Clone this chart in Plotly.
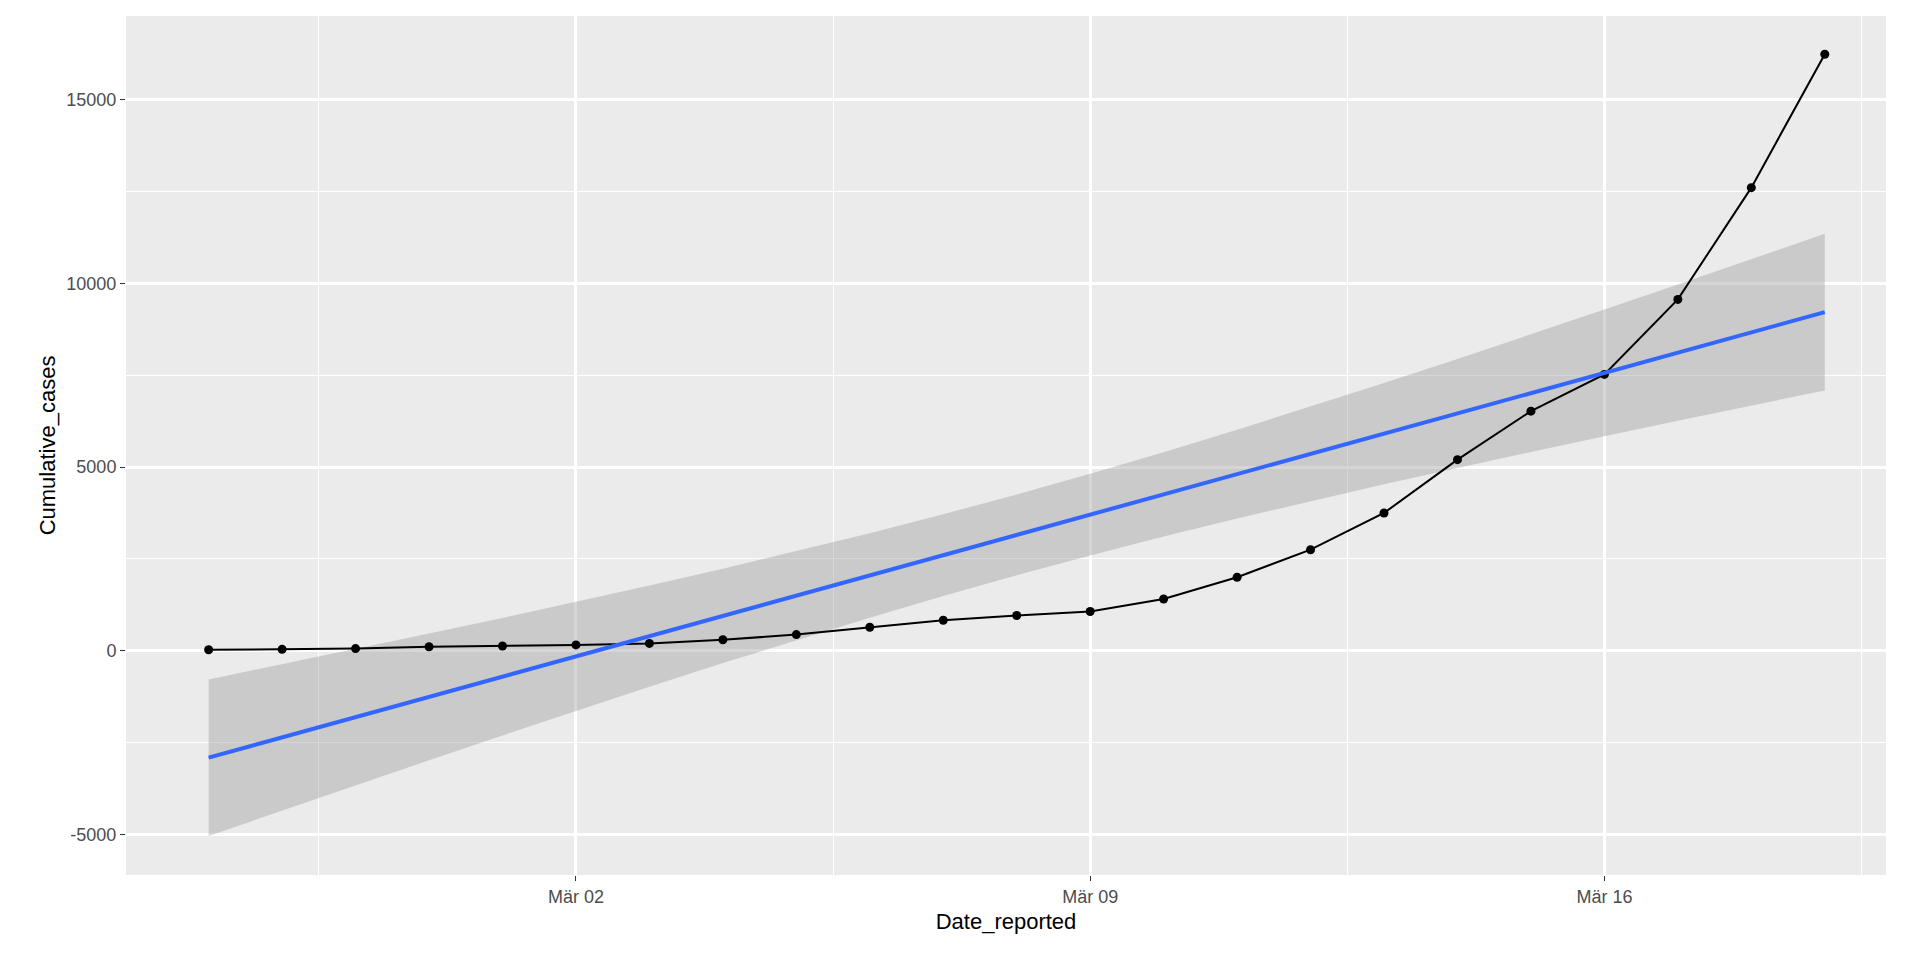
import numpy as np
import pandas as pd
import plotly.graph_objects as go

dates = pd.date_range("2020-02-26", "2020-03-19", freq="D")
cases = [27, 40, 60, 110, 130, 160, 200, 300, 440, 640, 830, 960, 1070, 1410,
         2000, 2750, 3750, 5200, 6520, 7520, 9560, 12600, 16230]
yticks = [-5000, 0, 5000, 10000, 15000]
yticklabels = ["-5000", "0", "5000", "10000", "15000"]

# linear fit with 95% band, like geom_smooth(method="lm")
x = np.arange(len(cases), dtype=float)
y = np.array(cases, dtype=float)
b, a = np.polyfit(x, y, 1)
fit = a + b * x
n = len(x)
s = np.sqrt(((y - fit) ** 2).sum() / (n - 2))
se = s * np.sqrt(1 / n + (x - x.mean()) ** 2 / ((x - x.mean()) ** 2).sum())
t = 2.0796
upper, lower = fit + t * se, fit - t * se

fig = go.Figure()
fig.add_trace(go.Scatter(x=dates, y=upper, mode="lines", line=dict(width=0),
                         hoverinfo="skip", showlegend=False))
fig.add_trace(go.Scatter(x=dates, y=lower, mode="lines", line=dict(width=0),
                         fill="tonexty", fillcolor="rgba(153,153,153,0.4)",
                         hoverinfo="skip", showlegend=False))
fig.add_trace(go.Scatter(x=dates, y=cases, mode="lines+markers",
                         line=dict(color="black", width=2),
                         marker=dict(color="black", size=9), showlegend=False))
fig.add_trace(go.Scatter(x=dates, y=fit, mode="lines",
                         line=dict(color="#3366FF", width=4), showlegend=False))

tickvals = pd.to_datetime(["2020-03-02", "2020-03-09", "2020-03-16"])
ticktext = ["Mär 02", "Mär 09", "Mär 16"]
minor = pd.to_datetime(["2020-02-27 12:00", "2020-03-05 12:00",
                        "2020-03-12 12:00", "2020-03-19 12:00"])

fig.update_layout(
    width=1920, height=960,
    plot_bgcolor="#EBEBEB", paper_bgcolor="white",
    margin=dict(l=118, r=42, t=8, b=93),
    font=dict(family="Liberation Sans, Arial", color="black"),
    xaxis=dict(range=[pd.Timestamp("2020-02-24 21:00"), pd.Timestamp("2020-03-19 20:00")],
               tickvals=tickvals, ticktext=ticktext, gridcolor="white", gridwidth=2.5,
               showline=False, zeroline=False, ticks="outside", ticklen=5, tickcolor="#333333",
               tickfont=dict(size=18, color="#4D4D4D"),
               minor=dict(tickvals=minor, gridcolor="white", gridwidth=1.2, ticks=""),
               title=dict(text="Date_reported", font=dict(size=22), standoff=8)),
    yaxis=dict(range=[-6100, 17270], tickvals=yticks, ticktext=yticklabels,
               gridcolor="white", gridwidth=2.5, zeroline=False, ticks="outside",
               ticklen=5, tickcolor="#333333", tickfont=dict(size=18, color="#4D4D4D"),
               minor=dict(tickvals=[-2500, 2500, 7500, 12500], gridcolor="white",
                          gridwidth=1.2, ticks=""),
               title=dict(text="Cumulative_cases", font=dict(size=22), standoff=4)),
)
fig.write_html("out.html")
